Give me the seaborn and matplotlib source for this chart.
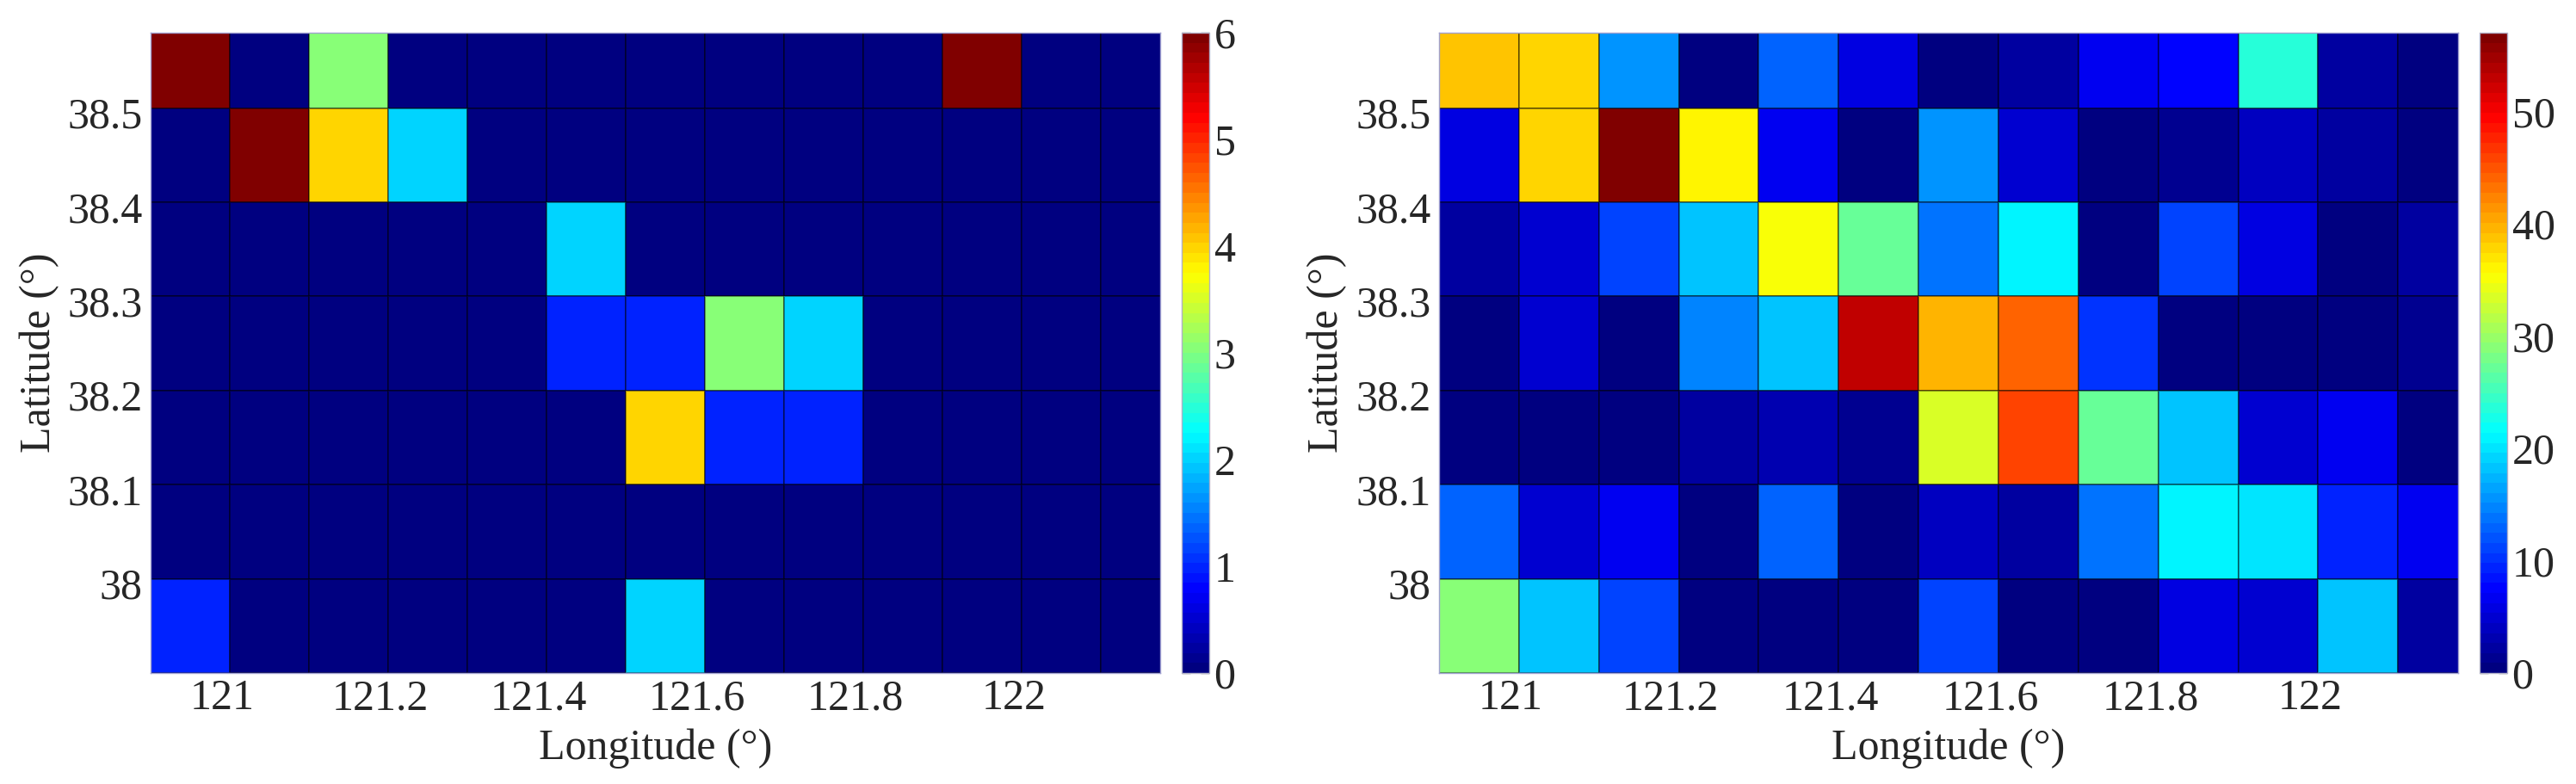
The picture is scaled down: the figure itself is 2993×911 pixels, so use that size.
import numpy as np
import pandas as pd
import matplotlib
matplotlib.use('Agg')
import matplotlib.pyplot as plt
from matplotlib.colors import ListedColormap
import seaborn as sns

# podaci - levo (0-6) i desno (0-57), redovi od severa ka jugu
left_vals = [
    [6, 0, 3, 0, 0, 0, 0, 0, 0, 0, 6, 0, 0],
    [0, 6, 4, 2, 0, 0, 0, 0, 0, 0, 0, 0, 0],
    [0, 0, 0, 0, 0, 2, 0, 0, 0, 0, 0, 0, 0],
    [0, 0, 0, 0, 0, 1, 1, 3, 2, 0, 0, 0, 0],
    [0, 0, 0, 0, 0, 0, 4, 1, 1, 0, 0, 0, 0],
    [0, 0, 0, 0, 0, 0, 0, 0, 0, 0, 0, 0, 0],
    [1, 0, 0, 0, 0, 0, 2, 0, 0, 0, 0, 0, 0],
]
right_vals = [
    [39, 38, 16, 0, 13, 6, 0, 2, 7, 8, 24, 2, 0],
    [6, 38, 57, 36, 7, 0, 16, 5, 0, 1, 4, 2, 0],
    [2, 5, 11, 18, 35, 27, 14, 21, 0, 11, 6, 0, 2],
    [0, 5, 0, 15, 18, 53, 40, 44, 10, 0, 0, 0, 1],
    [0, 0, 0, 2, 3, 1, 33, 46, 27, 18, 5, 7, 0],
    [13, 5, 7, 0, 13, 0, 4, 2, 14, 21, 20, 9, 7],
    [29, 18, 11, 0, 0, 0, 11, 0, 0, 6, 5, 18, 2],
]
left_max = 6
right_max = 57
left_cbar_ticks = [0, 1, 2, 3, 4, 5, 6]
right_cbar_ticks = [0, 10, 20, 30, 40, 50]

lon_ticks = [121, 121.2, 121.4, 121.6, 121.8, 122]
lon_labels = ['121', '121.2', '121.4', '121.6', '121.8', '122']
lat_ticks = [38.5, 38.4, 38.3, 38.2, 38.1, 38.0]
lat_labels = ['38.5', '38.4', '38.3', '38.2', '38.1', '38']

# mreza celija
lon_start = 120.91   # zapadna ivica prve kolone
lat_top = 38.61      # severna ivica prvog reda
step = 0.1

# matlab jet(64)
x = np.linspace(0, 1, 64)
r = np.clip(np.minimum(4 * x - 1.5, -4 * x + 4.5), 0, 1)
g = np.clip(np.minimum(4 * x - 0.5, -4 * x + 3.5), 0, 1)
b = np.clip(np.minimum(4 * x + 0.5, -4 * x + 2.5), 0, 1)
jet = ListedColormap(np.column_stack([r, g, b]))

sns.set_style('white')
plt.rcParams['font.family'] = ['Liberation Serif', 'DejaVu Serif']
FS = 36

fig = plt.figure(figsize=(29.93, 9.11), dpi=100)
W, H = 2993.0, 911.0


def panel(vals, vmax, cticks, ax_box, cax_box):
    ax = fig.add_axes(ax_box)
    cax = fig.add_axes(cax_box)
    df = pd.DataFrame(vals)
    sns.heatmap(df, cmap=jet, vmin=0, vmax=vmax, ax=ax, cbar_ax=cax,
                linewidths=1.2, linecolor=(0, 0, 0, 0.4))
    ncol = df.shape[1]
    ax.set_xlim(0, ncol - 0.25)
    ax.set_ylim(df.shape[0], 0.2)
    ax.set_xticks([(t - lon_start) / step for t in lon_ticks])
    ax.set_xticklabels(lon_labels, rotation=0, fontsize=FS)
    ax.set_yticks([(lat_top - t) / step for t in lat_ticks])
    ax.set_yticklabels(lat_labels, rotation=0, fontsize=FS)
    ax.tick_params(axis='x', length=0, pad=5)
    ax.tick_params(axis='y', length=0, pad=7)
    for sp in ax.spines.values():
        sp.set_visible(True)
        sp.set_color('#a0a0d0')
        sp.set_linewidth(1)
    ax.set_xlabel('Longitude (°)', fontsize=FS, va='top')
    ax.set_ylabel('Latitude (°)', fontsize=FS)
    ax.xaxis.set_label_coords(0.5, -0.087)
    ax.yaxis.set_label_coords(-0.09, 0.5)

    cax.set_yticks(cticks)
    cax.set_yticklabels([str(t) for t in cticks], fontsize=FS)
    cax.tick_params(direction='in', length=7, width=1, color='#555555',
                    left=True, right=True, labelleft=False, labelright=True, pad=4)
    cax.outline.set_edgecolor('#b0b0c8') if hasattr(cax, 'outline') else None
    for sp in cax.spines.values():
        sp.set_color('#b0b0c8')
        sp.set_linewidth(1)
    return ax


bottom = 1 - 782 / H
height = 744 / H
panel(left_vals, left_max, left_cbar_ticks,
      [175 / W, bottom, 1173 / W, height], [1373 / W, bottom, 32 / W, height])
panel(right_vals, right_max, right_cbar_ticks,
      [1672 / W, bottom, 1184 / W, height], [2881 / W, bottom, 32 / W, height])

plt.savefig('out.png', dpi=100)
